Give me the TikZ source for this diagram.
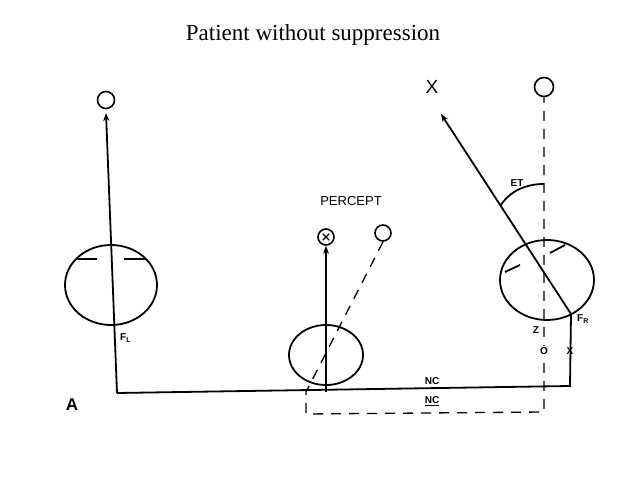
\documentclass[tikz,border=0pt]{standalone}
\usepackage{fontspec}
\setmainfont{Liberation Serif}
\newfontfamily\lab{Liberation Sans}
\usetikzlibrary{arrows.meta,calc}
\begin{document}
\begin{tikzpicture}[x=1pt,y=-1pt,
  ln/.style={line width=1.8pt},
  dl/.style={line width=1.3pt,dash pattern=on 10pt off 8pt},
  arr/.style={ln,-{Stealth[length=8pt,width=6pt]}},
  lb/.style={font=\lab\bfseries\fontsize{10}{10}\selectfont,inner sep=1pt},
  obj/.style={circle,draw,line width=1.6pt,minimum size=17pt,inner sep=0pt}]
\useasboundingbox (0,0) rectangle (638,478);
\node[font=\fontsize{23}{25}\selectfont] (title) at (313,35) {Patient without suppression};
% left eye
\draw[ln] (111,285) ellipse (46 and 40);
\draw[ln] (77,259) -- (97,259) (124,259) -- (145,259);
\coordinate (bl) at (117,393);
\node[obj] (ol) at (106,100) {};
\draw[arr] (bl) -- (106,113);
\node[lb,anchor=west] (FL) at (119,338) {F\textsubscript{L}};
% bottom solid
\coordinate (br) at (570,386);
\coordinate (fr) at (571,314);
\draw[ln] (bl) -- (br) -- (fr);
% middle eye
\draw[ln] (326,355) ellipse (37 and 30);
\node[obj,minimum size=16pt] (ox) at (326,237) {};
\draw[line width=1.3pt] ($(ox.north west)+(3,3)$) -- ($(ox.south east)+(-3,-3)$);
\draw[line width=1.3pt] ($(ox.north east)+(-3,3)$) -- ($(ox.south west)+(3,-3)$);
\draw[arr] (326,392) -- (ox.south);
\node[obj,minimum size=16pt] (om) at (383,233) {};
\node[lb,font=\lab\fontsize{13}{13}\selectfont] (perc) at (351,201) {PERCEPT};
\coordinate (d1) at (306,392);
\coordinate (d2) at (306,414);
\coordinate (d3) at (544,412);
\node[obj,minimum size=19pt] (or) at (544,87) {};
\draw[dl] (om.south) -- (d1) -- (d2) -- (d3) -- (or.south);
% right eye
\draw[ln] (547,280) ellipse (47 and 40);
\draw[ln] (505,272) -- (520,265) (550,253) -- (565,245);
\draw[arr] (fr) -- (441,114);
\node[font=\lab\fontsize{19}{19}\selectfont] (xt) at (432,87) {X};
\draw[ln] (544,184) .. controls (526,184) and (510,191) .. (501,205);
\node[lb] (et) at (517,183) {ET};
\node[lb,anchor=west] (FR) at (576,319) {F\textsubscript{R}};
\node[lb] (z) at (536,330) {Z};
\node[lb,fill=white] (o) at (544,351) {O};
\node[lb] (x) at (570,351) {X};
\node[lb] (nc1) at (432,381) {NC};
\node[lb] (nc2) at (432,401) {\underline{NC}};
\node[font=\lab\bfseries\fontsize{17}{17}\selectfont] (A) at (72,405) {A};
\end{tikzpicture}
\end{document}
